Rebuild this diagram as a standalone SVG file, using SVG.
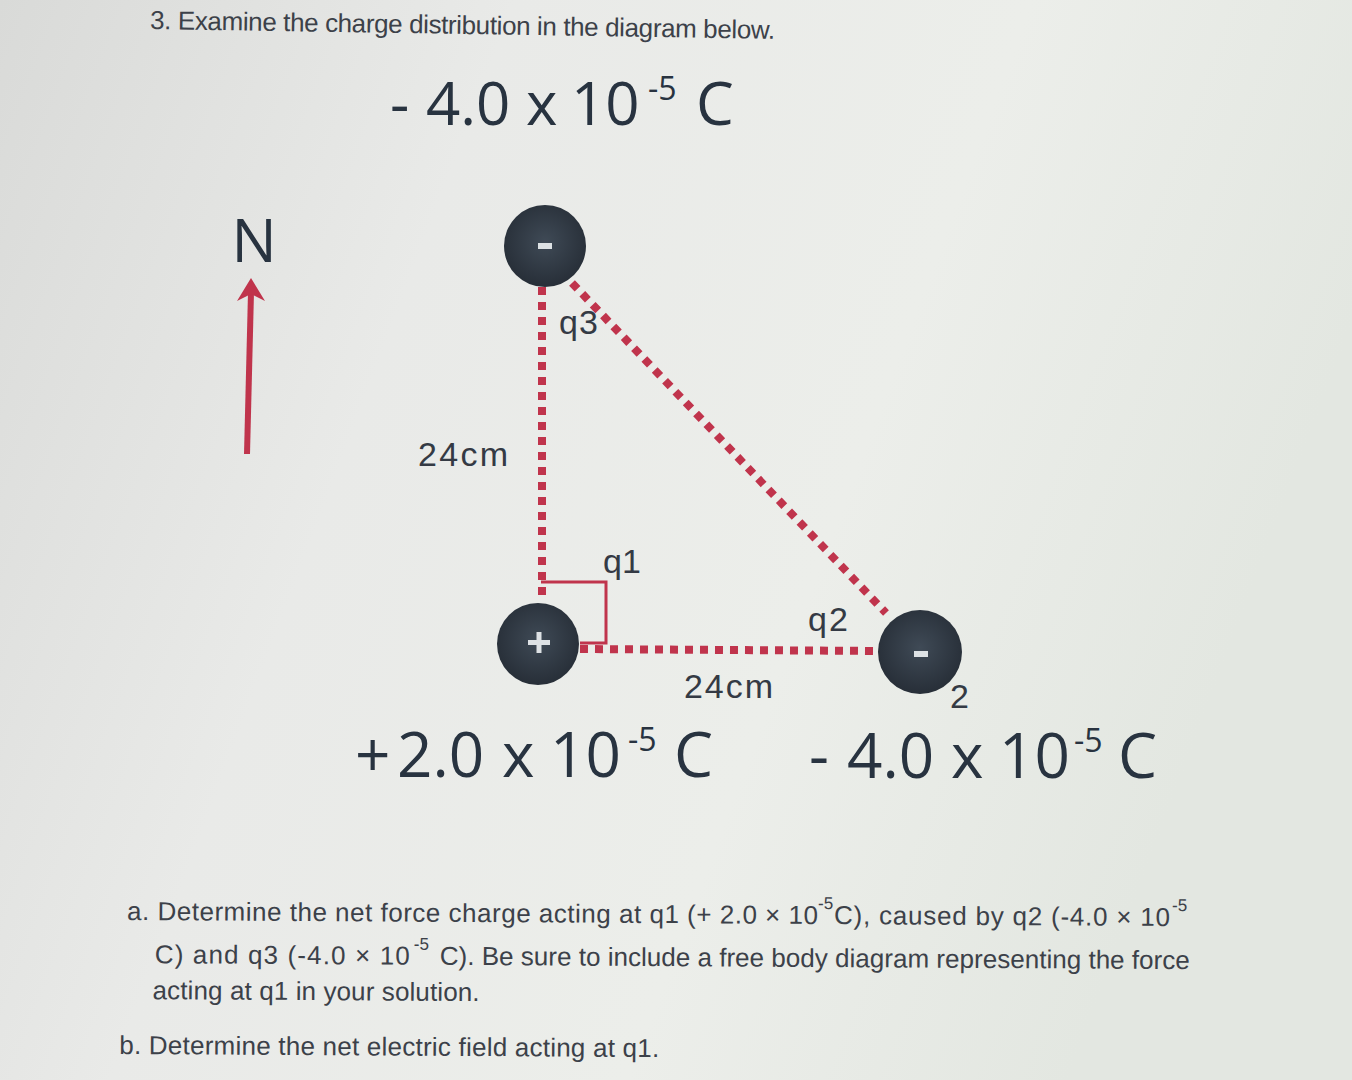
<svg xmlns="http://www.w3.org/2000/svg" width="1352" height="1080" viewBox="0 0 1352 1080">
<defs>
<linearGradient id="bg" x1="0" y1="0" x2="1" y2="0.3">
<stop offset="0" stop-color="#d9dad8"/>
<stop offset="0.35" stop-color="#e9eae8"/>
<stop offset="0.7" stop-color="#eceeea"/>
<stop offset="1" stop-color="#e3e7e1"/>
</linearGradient>
<radialGradient id="ball" cx="0.5" cy="0.45" r="0.6">
<stop offset="0" stop-color="#3f4a56"/>
<stop offset="1" stop-color="#252c35"/>
</radialGradient>
<style>
.big{font-family:"Open Sans","Liberation Sans",sans-serif;fill:#283340;font-size:60px}
.big2{font-family:"Open Sans","Liberation Sans",sans-serif;fill:#283340;font-size:62px}
.sup{font-family:"Open Sans","Liberation Sans",sans-serif;fill:#283340;font-size:32px}
.lbl{font-family:"Liberation Sans",Arial,sans-serif;fill:#343a44;font-size:34px}
.body{font-family:"Liberation Sans",Arial,sans-serif;fill:#3c4149;font-size:26px}
.bsup{font-family:"Liberation Sans",Arial,sans-serif;fill:#3c4149;font-size:17px}
.dot{stroke:#c0344c;stroke-width:8;stroke-dasharray:8 7;fill:none}
.mark{fill:#dde1e4}
</style>
</defs>
<rect width="1352" height="1080" fill="url(#bg)"/>
<text x="150" y="29" class="body" font-size="25" textLength="625" transform="rotate(0.9 150 29)">3. Examine the charge distribution in the diagram below.</text>

<g id="q3-value">
<text x="390" y="125" class="big">-</text>
<text x="426" y="125" class="big">4.0</text>
<text x="526" y="125" class="big">x</text>
<text x="571" y="125" class="big">10</text>
<text x="648" y="100" class="sup">-5</text>
<text x="696" y="125" class="big">C</text>
</g>

<g id="north">
<text x="254" y="262" class="big" font-size="52" text-anchor="middle">N</text>
<line x1="247" y1="454" x2="251" y2="292" stroke="#c0344c" stroke-width="6"/>
<polygon points="251,278 265,301 251,294 237,301" fill="#c0344c"/>
</g>

<g id="connectors">
<line class="dot" x1="542" y1="287" x2="542" y2="600"/>
<line class="dot" x1="572" y1="283" x2="886" y2="613"/>
<line class="dot" x1="580" y1="649" x2="880" y2="651"/>
<polyline points="541,582 606,582 606,643 580,643" fill="none" stroke="#c0344c" stroke-width="3"/>
</g>

<g id="q3">
<circle cx="545" cy="246" r="41" fill="url(#ball)"/>
<rect x="538" y="243" width="14" height="6" class="mark"/>
</g>
<g id="q1">
<circle cx="538" cy="644" r="41" fill="url(#ball)"/>
<rect x="528" y="640" width="22" height="5" class="mark"/>
<rect x="536.5" y="632" width="5" height="21" class="mark"/>
</g>
<g id="q2">
<circle cx="920" cy="652" r="42" fill="url(#ball)"/>
<rect x="914" y="651" width="14" height="6" class="mark"/>
</g>

<text x="559" y="334" class="lbl" textLength="39">q3</text>
<text x="603" y="573" class="lbl" textLength="38">q1</text>
<text x="808" y="631" class="lbl" textLength="40">q2</text>
<text x="418" y="466" class="lbl" textLength="90">24cm</text>
<text x="684" y="698" class="lbl" textLength="89">24cm</text>
<text x="950" y="708" class="lbl" font-size="30">2</text>

<g id="q1-value">
<text x="355" y="777" class="big2">+</text>
<text x="397" y="777" class="big2">2.0</text>
<text x="502" y="777" class="big2">x</text>
<text x="550" y="777" class="big2">10</text>
<text x="628" y="751" class="sup" font-size="34">-5</text>
<text x="674" y="777" class="big2">C</text>
</g>
<g id="q2-value">
<text x="809" y="778" class="big2">-</text>
<text x="847" y="778" class="big2">4.0</text>
<text x="951" y="778" class="big2">x</text>
<text x="999" y="778" class="big2">10</text>
<text x="1074" y="752" class="sup" font-size="34">-5</text>
<text x="1118" y="778" class="big2">C</text>
</g>

<g id="question" transform="rotate(0.33 127 920)">
<text x="127" y="920" class="body" textLength="691">a. Determine the net force charge acting at q1 (+ 2.0 × 10</text>
<text x="818" y="905" class="bsup">-5</text>
<text x="834" y="920" class="body" textLength="336">C), caused by q2 (-4.0 × 10</text>
<text x="1172" y="905" class="bsup">-5</text>
<text x="155" y="963" class="body" textLength="255">C) and q3 (-4.0 × 10</text>
<text x="414" y="948" class="bsup">-5</text>
<text x="440" y="963" class="body" textLength="750">C). Be sure to include a free body diagram representing the force</text>
<text x="153" y="999" class="body" textLength="327">acting at q1 in your solution.</text>
<text x="120" y="1054" class="body" textLength="540">b. Determine the net electric field acting at q1.</text>
</g>
</svg>
